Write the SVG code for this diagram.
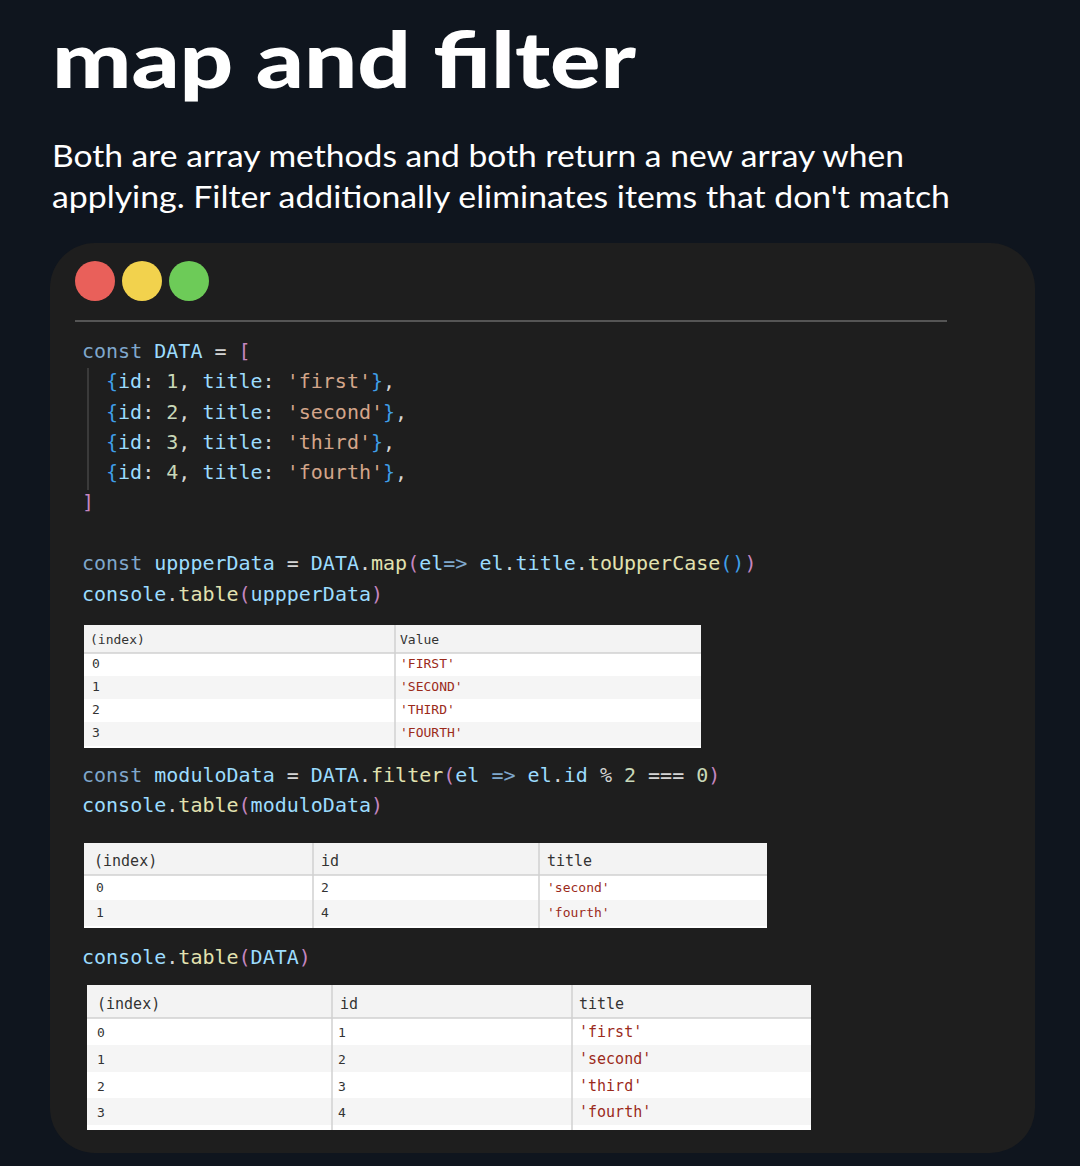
<svg xmlns="http://www.w3.org/2000/svg" width="1080" height="1166" viewBox="0 0 1080 1166">
<style>
.c{font-family:"DejaVu Sans Mono","Liberation Mono",monospace;font-size:20px;fill:#d4d4d4}
.k{fill:#7fa7cc}.v{fill:#9cdcfe}.p{fill:#c586c0}.b{fill:#3f9fe8}.s{fill:#d3a58a}.n{fill:#c8d8b8}.f{fill:#e2e2b0}
.t{font-family:"DejaVu Sans Mono","Liberation Mono",monospace;font-size:13px;fill:#333}
.tl{font-family:"DejaVu Sans Mono","Liberation Mono",monospace;font-size:15px;fill:#333}
.r{fill:#9b2a1a}
.g{stroke:#d0d0d0;stroke-width:1.5}
</style>
<rect width="1080" height="1166" fill="#0f151e"/>
<text x="52" y="88" font-family="Lato,'Open Sans',sans-serif" font-weight="900" font-size="78" fill="#fff" textLength="584" lengthAdjust="spacingAndGlyphs">map and filter</text>
<text x="52" y="167" font-family="Lato,'Open Sans',sans-serif" font-size="31" fill="#fff" textLength="852" lengthAdjust="spacingAndGlyphs">Both are array methods and both return a new array when</text>
<text x="52" y="208" font-family="Lato,'Open Sans',sans-serif" font-size="31" fill="#fff" textLength="898" lengthAdjust="spacingAndGlyphs">applying. Filter additionally eliminates items that don't match</text>
<g id="card">
<rect x="50" y="243" width="985" height="910" rx="45" fill="#1e1e1e"/>
<circle cx="95" cy="281" r="20" fill="#e9605a"/><circle cx="142" cy="281" r="20" fill="#f2d24d"/><circle cx="189" cy="281" r="20" fill="#6dcb58"/>
<line x1="75" y1="321" x2="947" y2="321" stroke="#555" stroke-width="2"/>
<line x1="88" y1="368" x2="88" y2="490" stroke="#444" stroke-width="1.5"/>
</g>
<g id="code">
<text class="c" x="82" y="358"><tspan class="k">const</tspan> <tspan class="v">DATA</tspan> = <tspan class="p">[</tspan></text>
<text class="c" x="106" y="388"><tspan class="b">{</tspan><tspan class="v">id</tspan>: <tspan class="n">1</tspan>, <tspan class="v">title</tspan>: <tspan class="s">'first'</tspan><tspan class="b">}</tspan>,</text>
<text class="c" x="106" y="419"><tspan class="b">{</tspan><tspan class="v">id</tspan>: <tspan class="n">2</tspan>, <tspan class="v">title</tspan>: <tspan class="s">'second'</tspan><tspan class="b">}</tspan>,</text>
<text class="c" x="106" y="449"><tspan class="b">{</tspan><tspan class="v">id</tspan>: <tspan class="n">3</tspan>, <tspan class="v">title</tspan>: <tspan class="s">'third'</tspan><tspan class="b">}</tspan>,</text>
<text class="c" x="106" y="479"><tspan class="b">{</tspan><tspan class="v">id</tspan>: <tspan class="n">4</tspan>, <tspan class="v">title</tspan>: <tspan class="s">'fourth'</tspan><tspan class="b">}</tspan>,</text>
<text class="c" x="82" y="509"><tspan class="p">]</tspan></text>
<text class="c" x="82" y="570"><tspan class="k">const</tspan> <tspan class="v">uppperData</tspan> = <tspan class="v">DATA</tspan>.<tspan class="f">map</tspan><tspan class="p">(</tspan><tspan class="v">el</tspan><tspan class="k">=&gt;</tspan> <tspan class="v">el</tspan>.<tspan class="v">title</tspan>.<tspan class="f">toUpperCase</tspan><tspan class="b">()</tspan><tspan class="p">)</tspan></text>
<text class="c" x="82" y="601"><tspan class="v">console</tspan>.<tspan class="f">table</tspan><tspan class="p">(</tspan><tspan class="v">uppperData</tspan><tspan class="p">)</tspan></text>
<text class="c" x="82" y="782"><tspan class="k">const</tspan> <tspan class="v">moduloData</tspan> = <tspan class="v">DATA</tspan>.<tspan class="f">filter</tspan><tspan class="p">(</tspan><tspan class="v">el</tspan> <tspan class="k">=&gt;</tspan> <tspan class="v">el</tspan>.<tspan class="v">id</tspan> % <tspan class="n">2</tspan> === <tspan class="n">0</tspan><tspan class="p">)</tspan></text>
<text class="c" x="82" y="812"><tspan class="v">console</tspan>.<tspan class="f">table</tspan><tspan class="p">(</tspan><tspan class="v">moduloData</tspan><tspan class="p">)</tspan></text>
<text class="c" x="82" y="964"><tspan class="v">console</tspan>.<tspan class="f">table</tspan><tspan class="p">(</tspan><tspan class="v">DATA</tspan><tspan class="p">)</tspan></text>
</g>
<g id="table1">
<rect x="84" y="625" width="617" height="123" fill="#fff"/>
<rect x="84" y="625" width="617" height="28" fill="#f3f3f3"/>
<rect x="84" y="676" width="617" height="23" fill="#f5f5f5"/><rect x="84" y="722" width="617" height="24" fill="#f5f5f5"/>
<line class="g" x1="84" y1="653" x2="701" y2="653"/><line class="g" x1="395" y1="625" x2="395" y2="748"/>
<text class="t" x="90" y="644">(index)</text><text class="t" x="400" y="644">Value</text>
<text class="t" x="92" y="668">0</text><text class="t r" x="400" y="668">'FIRST'</text>
<text class="t" x="92" y="691">1</text><text class="t r" x="400" y="691">'SECOND'</text>
<text class="t" x="92" y="714">2</text><text class="t r" x="400" y="714">'THIRD'</text>
<text class="t" x="92" y="737">3</text><text class="t r" x="400" y="737">'FOURTH'</text>
</g>
<g id="table2">
<rect x="84" y="843" width="683" height="85" fill="#fff"/>
<rect x="84" y="843" width="683" height="32" fill="#f3f3f3"/>
<rect x="84" y="900" width="683" height="26" fill="#f5f5f5"/>
<line class="g" x1="84" y1="875" x2="767" y2="875"/><line class="g" x1="313" y1="843" x2="313" y2="928"/><line class="g" x1="539" y1="843" x2="539" y2="928"/>
<text class="tl" x="94" y="866">(index)</text><text class="tl" x="321" y="866">id</text><text class="tl" x="547" y="866">title</text>
<text class="t" x="96" y="892">0</text><text class="t" x="321" y="892">2</text><text class="t r" x="547" y="892">'second'</text>
<text class="t" x="96" y="917">1</text><text class="t" x="321" y="917">4</text><text class="t r" x="547" y="917">'fourth'</text>
</g>
<g id="table3">
<rect x="87" y="985" width="724" height="145" fill="#fff"/>
<rect x="87" y="985" width="724" height="33" fill="#f3f3f3"/>
<rect x="87" y="1045" width="724" height="27" fill="#f5f5f5"/><rect x="87" y="1098" width="724" height="27" fill="#f5f5f5"/>
<line class="g" x1="87" y1="1018" x2="811" y2="1018"/><line class="g" x1="332" y1="985" x2="332" y2="1130"/><line class="g" x1="572" y1="985" x2="572" y2="1130"/>
<text class="tl" x="97" y="1009">(index)</text><text class="tl" x="340" y="1009">id</text><text class="tl" x="579" y="1009">title</text>
<text class="t" x="97" y="1037">0</text><text class="t" x="338" y="1037">1</text><text class="tl r" x="579" y="1037">'first'</text>
<text class="t" x="97" y="1064">1</text><text class="t" x="338" y="1064">2</text><text class="tl r" x="579" y="1064">'second'</text>
<text class="t" x="97" y="1091">2</text><text class="t" x="338" y="1091">3</text><text class="tl r" x="579" y="1091">'third'</text>
<text class="t" x="97" y="1117">3</text><text class="t" x="338" y="1117">4</text><text class="tl r" x="579" y="1117">'fourth'</text>
</g>
</svg>
